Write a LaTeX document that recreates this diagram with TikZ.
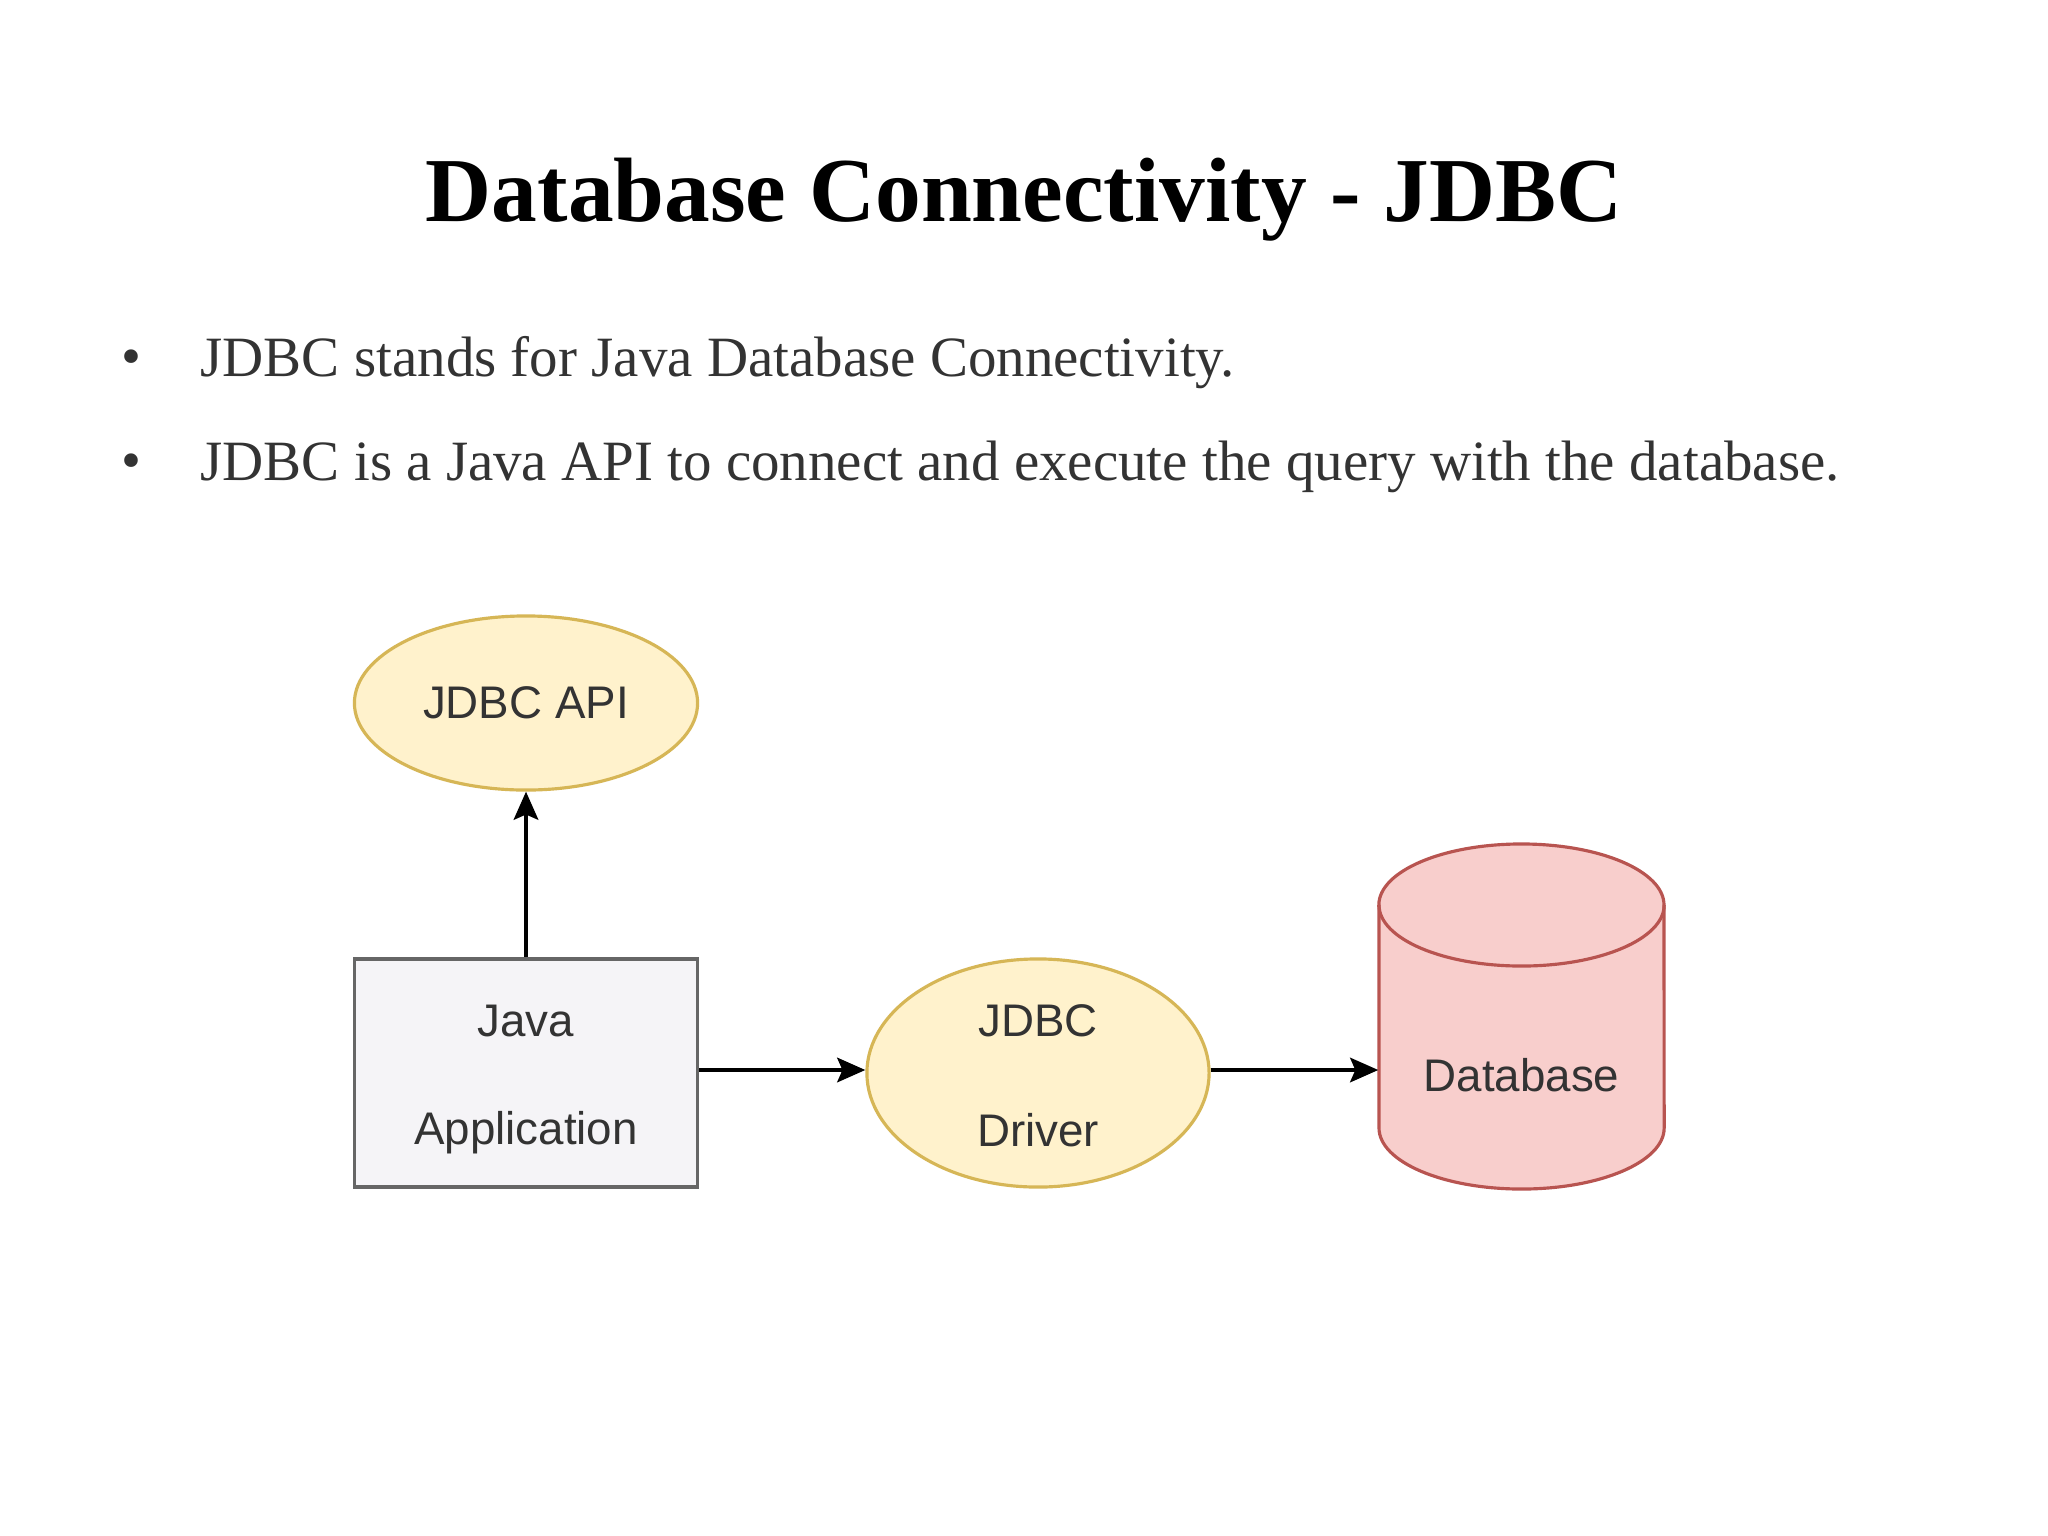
\documentclass[tikz,border=0pt]{standalone}
\usepackage{fontspec}
\setmainfont{Liberation Serif}
\newfontfamily\diafont{Liberation Sans}
\usetikzlibrary{arrows.meta}
\definecolor{yfill}{HTML}{FFF2CC}
\definecolor{ydraw}{HTML}{D6B656}
\definecolor{rfill}{HTML}{F8CECC}
\definecolor{rdraw}{HTML}{B85450}
\definecolor{gfill}{HTML}{F5F4F7}
\definecolor{gdraw}{HTML}{666666}
\definecolor{txt}{HTML}{333333}
\tikzset{
  ell/.style={ellipse, draw=ydraw, fill=yfill, line width=0.9pt, inner sep=0pt},
  appbox/.style={rectangle, draw=gdraw, fill=gfill, line width=1pt, inner sep=0pt},
  lbl/.style={font=\diafont\fontsize{13}{16}\selectfont, text=txt},
  bul/.style={font=\fontsize{16.2}{20}\selectfont, text=txt},
  conn/.style={line width=1pt, -{Stealth[length=8pt,width=7pt,inset=1.5pt]}},
}
\usetikzlibrary{shapes.geometric}
\begin{document}
\begin{tikzpicture}[x=0.01cm,y=-0.01cm]
\useasboundingbox[fill=white] (0,0) rectangle (2048,1536);
% title and bullets
\node[font=\bfseries\fontsize{26}{30}\selectfont] (title) at (1024,200) {Database Connectivity - JDBC};
\node[bul] (b1) at (131,363) {•};
\node[bul] (b2) at (131,467) {•};
\node[bul, anchor=west, inner sep=0pt] (t1) at (200,363) {JDBC stands for Java Database Connectivity.};
\node[bul, anchor=west, inner sep=0pt] (t2) at (200,467) {JDBC is a Java API to connect and execute the query with the database.};
% diagram
\node[ell, minimum width=3.43cm, minimum height=1.74cm] (api) at (526,703) {};
\node[lbl] at (api.center) {JDBC API};
\node[appbox, minimum width=3.43cm, minimum height=2.28cm] (app) at (526,1073) {};
\node[lbl] (app1) at (526,1021) {Java};
\node[lbl] (app2) at (526,1133) {Application};
\node[ell, minimum width=3.42cm, minimum height=2.28cm] (drv) at (1038,1073) {};
\node[lbl] (drv1) at (1038,1021) {JDBC};
\node[lbl] (drv2) at (1038,1130) {Driver};
% database cylinder
\filldraw[draw=rdraw, fill=rfill, line width=0.9pt]
  (1379,905) -- (1379,1128) arc[start angle=180, end angle=360, x radius=1.425cm, y radius=0.61cm]
  -- (1664,905) arc[start angle=0, end angle=180, x radius=1.425cm, y radius=0.61cm] -- cycle;
\draw[draw=rdraw, line width=0.9pt] (1379,905) arc[start angle=180, end angle=360, x radius=1.425cm, y radius=0.61cm];
\node[minimum width=2.85cm, minimum height=3.45cm, inner sep=0pt] (db) at (1521.5,1016.5) {};
\node[lbl] (dbl) at (1521.5,1075) {Database};
% connectors
\draw[conn] (app.north) -- (api.south);
\draw[conn] (app.east |- 0,1070) coordinate (c1) -- (drv.west |- c1);
\draw[conn] (drv.east |- 0,1070) coordinate (c2) -- (db.west |- c2);
\end{tikzpicture}
\end{document}
